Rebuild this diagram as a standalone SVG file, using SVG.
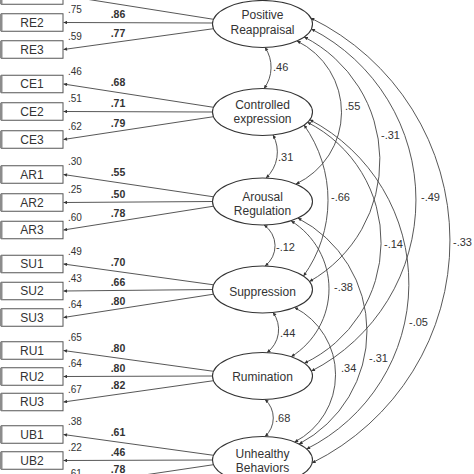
<svg xmlns="http://www.w3.org/2000/svg" width="474" height="474" viewBox="0 0 474 474">
<style>
.box{fill:#fff;stroke:#555;stroke-width:1}
.edge{fill:#8c8c8c}
.lat{fill:#fff;stroke:#333;stroke-width:1.1}
.bt{font-family:"Liberation Sans",Arial,sans-serif;font-size:12px;fill:#333;text-anchor:middle}
.lt{font-family:"Liberation Sans",Arial,sans-serif;font-size:12px;fill:#333;text-anchor:middle}
.ev{font-family:"Liberation Sans",Arial,sans-serif;font-size:10px;fill:#333}
.ld{font-family:"Liberation Sans",Arial,sans-serif;font-size:10.5px;font-weight:bold;fill:#333;text-anchor:middle}
.cr{font-family:"Liberation Sans",Arial,sans-serif;font-size:11px;fill:#333}
.ln{fill:none;stroke:#444;stroke-width:0.9;marker-end:url(#ah)}
.arc{fill:none;stroke:#444;stroke-width:0.9;marker-start:url(#ah);marker-end:url(#ah)}
</style>
<defs>
<marker id="ah" viewBox="0 0 6 6" refX="6" refY="3" markerWidth="4.5" markerHeight="3.5" markerUnits="userSpaceOnUse" orient="auto-start-reverse">
<path d="M0,0 L6,3 L0,6 z" fill="#333"/>
</marker>
</defs>
<rect width="474" height="474" fill="#fff"/>
<g id="connectors">
<path class="ln" d="M213.5 19.3 L63.5 -4.5"/>
<path class="ln" d="M212.5 23 L63.5 22.5"/>
<path class="ln" d="M213.5 28.7 L63.5 49.5"/>
<path class="ln" d="M213.5 107.3 L63.5 84"/>
<path class="ln" d="M212.5 112 L63.5 111.5"/>
<path class="ln" d="M213.5 116.7 L63.5 139.5"/>
<path class="ln" d="M213.5 196.8 L63.5 174.5"/>
<path class="ln" d="M212.5 201.5 L63.5 202.5"/>
<path class="ln" d="M213.5 206.2 L63.5 230"/>
<path class="ln" d="M213.5 284.8 L63.5 264"/>
<path class="ln" d="M212.5 289.5 L63.5 291"/>
<path class="ln" d="M213.5 294.2 L63.5 317.5"/>
<path class="ln" d="M213.5 371.3 L63.5 350.5"/>
<path class="ln" d="M212.5 376 L63.5 376.5"/>
<path class="ln" d="M213.5 380.7 L63.5 402"/>
<path class="ln" d="M213.5 455.3 L63.5 434.5"/>
<path class="ln" d="M212.5 460 L63.5 460.5"/>
<path class="ln" d="M213.5 464.7 L63.5 487"/>
<path class="arc" d="M265 47.4 A35.5 35.5 0 0 1 264 88.5"/>
<path class="arc" d="M273 135 A35.4 35.4 0 0 1 266 178"/>
<path class="arc" d="M264 225 A25.2 25.2 0 0 1 265 266"/>
<path class="arc" d="M273 312.5 A28.7 28.7 0 0 1 267 352.6"/>
<path class="arc" d="M265 399.5 A24.8 24.8 0 0 1 265 436.5"/>
<path class="arc" d="M310.8 18 A247.9 247.9 0 0 1 312.1 462.9"/>
<path class="arc" d="M311.4 29 A192.2 192.2 0 0 1 311.4 371.1"/>
<path class="arc" d="M304.2 37 A138.9 138.9 0 0 1 309.5 281.5"/>
<path class="arc" d="M297 41 A79.3 79.3 0 0 1 296 184"/>
<path class="arc" d="M304 125 A129.6 129.6 0 0 1 303.5 276"/>
<path class="arc" d="M307.4 122.3 A134.1 134.1 0 0 1 304.4 363.2"/>
<path class="arc" d="M309.8 119.7 A185 185 0 0 1 306.6 449"/>
<path class="arc" d="M291.2 221 A79.8 79.8 0 0 1 291.2 356.7"/>
<path class="arc" d="M297.9 218.1 A127.4 127.4 0 0 1 299.1 444"/>
<path class="arc" d="M294.6 307.5 A75.7 75.7 0 0 1 294.6 442"/>
<text class="cr" x="273" y="70.5">.46</text>
<text class="cr" x="278" y="160.5">.31</text>
<text class="cr" x="276" y="250.5">-.12</text>
<text class="cr" x="280" y="336.5">.44</text>
<text class="cr" x="275" y="421.5">.68</text>
<text class="cr" x="345" y="110">.55</text>
<text class="cr" x="381" y="139">-.31</text>
<text class="cr" x="421" y="201">-.49</text>
<text class="cr" x="453" y="246">-.33</text>
<text class="cr" x="331" y="201">-.66</text>
<text class="cr" x="384" y="248">-.14</text>
<text class="cr" x="409" y="326">-.05</text>
<text class="cr" x="334" y="291">-.38</text>
<text class="cr" x="369" y="362">-.31</text>
<text class="cr" x="341" y="372">.34</text>
<text class="ld" x="118" y="17.5">.86</text>
<text class="ld" x="118" y="36.5">.77</text>
<text class="ld" x="118" y="85.5">.68</text>
<text class="ld" x="118" y="106.5">.71</text>
<text class="ld" x="118" y="126.5">.79</text>
<text class="ld" x="118" y="176">.55</text>
<text class="ld" x="118" y="197.5">.50</text>
<text class="ld" x="118" y="217">.78</text>
<text class="ld" x="118" y="265.5">.70</text>
<text class="ld" x="118" y="286">.66</text>
<text class="ld" x="118" y="304.5">.80</text>
<text class="ld" x="118" y="352">.80</text>
<text class="ld" x="118" y="371.5">.80</text>
<text class="ld" x="118" y="389">.82</text>
<text class="ld" x="118" y="436">.61</text>
<text class="ld" x="118" y="455.5">.46</text>
<text class="ld" x="118" y="473">.78</text>
</g>
<g id="RE1"><rect class="box" x="1.5" y="-13.25" width="61.5" height="17.5"/><rect class="edge" x="0" y="-13.25" width="2.5" height="17.5"/></g>
<g id="RE2"><rect class="box" x="1.5" y="13.75" width="61.5" height="17.5"/><rect class="edge" x="0" y="13.75" width="2.5" height="17.5"/><text class="bt" x="32" y="26.8">RE2</text><text class="ev" x="68" y="13.25">.75</text></g>
<g id="RE3"><rect class="box" x="1.5" y="40.75" width="61.5" height="17.5"/><rect class="edge" x="0" y="40.75" width="2.5" height="17.5"/><text class="bt" x="32" y="53.8">RE3</text><text class="ev" x="68" y="40.25">.59</text></g>
<g id="CE1"><rect class="box" x="1.5" y="75.25" width="61.5" height="17.5"/><rect class="edge" x="0" y="75.25" width="2.5" height="17.5"/><text class="bt" x="32" y="88.3">CE1</text><text class="ev" x="68" y="74.75">.46</text></g>
<g id="CE2"><rect class="box" x="1.5" y="102.75" width="61.5" height="17.5"/><rect class="edge" x="0" y="102.75" width="2.5" height="17.5"/><text class="bt" x="32" y="115.8">CE2</text><text class="ev" x="68" y="102.25">.51</text></g>
<g id="CE3"><rect class="box" x="1.5" y="130.75" width="61.5" height="17.5"/><rect class="edge" x="0" y="130.75" width="2.5" height="17.5"/><text class="bt" x="32" y="143.8">CE3</text><text class="ev" x="68" y="130.25">.62</text></g>
<g id="AR1"><rect class="box" x="1.5" y="165.75" width="61.5" height="17.5"/><rect class="edge" x="0" y="165.75" width="2.5" height="17.5"/><text class="bt" x="32" y="178.8">AR1</text><text class="ev" x="68" y="165.25">.30</text></g>
<g id="AR2"><rect class="box" x="1.5" y="193.75" width="61.5" height="17.5"/><rect class="edge" x="0" y="193.75" width="2.5" height="17.5"/><text class="bt" x="32" y="206.8">AR2</text><text class="ev" x="68" y="193.25">.25</text></g>
<g id="AR3"><rect class="box" x="1.5" y="221.25" width="61.5" height="17.5"/><rect class="edge" x="0" y="221.25" width="2.5" height="17.5"/><text class="bt" x="32" y="234.3">AR3</text><text class="ev" x="68" y="220.75">.60</text></g>
<g id="SU1"><rect class="box" x="1.5" y="255.25" width="61.5" height="17.5"/><rect class="edge" x="0" y="255.25" width="2.5" height="17.5"/><text class="bt" x="32" y="268.3">SU1</text><text class="ev" x="68" y="254.75">.49</text></g>
<g id="SU2"><rect class="box" x="1.5" y="282.25" width="61.5" height="17.5"/><rect class="edge" x="0" y="282.25" width="2.5" height="17.5"/><text class="bt" x="32" y="295.3">SU2</text><text class="ev" x="68" y="281.75">.43</text></g>
<g id="SU3"><rect class="box" x="1.5" y="308.75" width="61.5" height="17.5"/><rect class="edge" x="0" y="308.75" width="2.5" height="17.5"/><text class="bt" x="32" y="321.8">SU3</text><text class="ev" x="68" y="308.25">.64</text></g>
<g id="RU1"><rect class="box" x="1.5" y="341.75" width="61.5" height="17.5"/><rect class="edge" x="0" y="341.75" width="2.5" height="17.5"/><text class="bt" x="32" y="354.8">RU1</text><text class="ev" x="68" y="341.25">.65</text></g>
<g id="RU2"><rect class="box" x="1.5" y="367.75" width="61.5" height="17.5"/><rect class="edge" x="0" y="367.75" width="2.5" height="17.5"/><text class="bt" x="32" y="380.8">RU2</text><text class="ev" x="68" y="367.25">.64</text></g>
<g id="RU3"><rect class="box" x="1.5" y="393.25" width="61.5" height="17.5"/><rect class="edge" x="0" y="393.25" width="2.5" height="17.5"/><text class="bt" x="32" y="406.3">RU3</text><text class="ev" x="68" y="392.75">.67</text></g>
<g id="UB1"><rect class="box" x="1.5" y="425.75" width="61.5" height="17.5"/><rect class="edge" x="0" y="425.75" width="2.5" height="17.5"/><text class="bt" x="32" y="438.8">UB1</text><text class="ev" x="68" y="425.25">.38</text></g>
<g id="UB2"><rect class="box" x="1.5" y="451.75" width="61.5" height="17.5"/><rect class="edge" x="0" y="451.75" width="2.5" height="17.5"/><text class="bt" x="32" y="464.8">UB2</text><text class="ev" x="68" y="451.25">.22</text></g>
<g id="UB3"><rect class="box" x="1.5" y="478.25" width="61.5" height="17.5"/><text class="ev" x="68" y="477">.61</text></g>
<g id="PositiveReappraisal"><ellipse class="lat" cx="262.5" cy="24" rx="50" ry="23.5"/><text class="lt" x="262.5" y="19.3">Positive</text><text class="lt" x="262.5" y="33.6">Reappraisal</text></g>
<g id="ControlledExpression"><ellipse class="lat" cx="262.5" cy="112" rx="50" ry="23.5"/><text class="lt" x="262.5" y="109.3">Controlled</text><text class="lt" x="262.5" y="122.6">expression</text></g>
<g id="ArousalRegulation"><ellipse class="lat" cx="262.5" cy="201.5" rx="50" ry="23.5"/><text class="lt" x="262.5" y="201">Arousal</text><text class="lt" x="262.5" y="215">Regulation</text></g>
<g id="Suppression"><ellipse class="lat" cx="262.5" cy="289.5" rx="50" ry="23.5"/><text class="lt" x="262.5" y="296">Suppression</text></g>
<g id="Rumination"><ellipse class="lat" cx="262.5" cy="376" rx="50" ry="23.5"/><text class="lt" x="262.5" y="381">Rumination</text></g>
<g id="UnhealthyBehaviors"><ellipse class="lat" cx="262.5" cy="460" rx="50" ry="23.5"/><text class="lt" x="262.5" y="458.3">Unhealthy</text><text class="lt" x="262.5" y="471.5">Behaviors</text></g>
</svg>
